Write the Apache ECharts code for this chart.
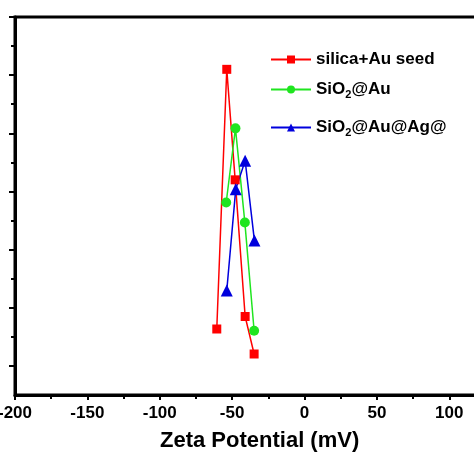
<!DOCTYPE html>
<html lang="en">
<head>
  <meta charset="UTF-8">
  <title>zeta</title>
  <script src="https://cdn.jsdelivr.net/npm/echarts@6/dist/echarts.min.js"></script>
</head>
<body style="margin:0;">
  <div id="chart" style="width:474px;height:474px;"></div>
  <script>
    // values (y in arbitrary axis units, 0 = bottom)
    var seedX = [-60.6, -53.7, -47.9, -41.0, -34.8];
    var seedY = [2.27, 11.2, 7.4, 2.7, 1.41];
    var auX = [-54.1, -47.7, -41.2, -34.8];
    var auY = [6.62, 9.17, 5.93, 2.21];
    var agX = [-53.7, -47.5, -41.0, -34.6];
    var agY = [3.59, 7.08, 8.06, 5.31];
    var names = ['silica+Au seed', 'SiO{s|2}@Au', 'SiO{s|2}@Au@Ag@'];
    var plain = ['silica+Au seed', 'SiO2@Au', 'SiO2@Au@Ag@'];

    function pairs(xs, ys) {
      return xs.map(function (x, i) { return [x, ys[i]]; });
    }

    var myChart = echarts.init(document.getElementById('chart'));
    var font = 'Arial, "Liberation Sans", sans-serif';
    var rich = { s: { fontSize: 11, fontWeight: 'bold', verticalAlign: 'bottom', padding: [10, 0, 0, 0], fontFamily: font } };

    function leg(i, top) {
      return {
        data: [plain[i]], left: 265, top: top, itemWidth: 40, itemHeight: 10,
        formatter: function () { return names[i]; },
        textStyle: { fontSize: 17, fontWeight: 'bold', color: '#000', fontFamily: font, rich: rich }
      };
    }

    myChart.setOption({
      animation: false,
      grid: { left: 15, top: 17, width: 579, height: 378, show: true, borderColor: '#000', borderWidth: 3, outerBoundsMode: 'none', containLabel: false },
      legend: [leg(0, 46), leg(1, 76), leg(2, 114)],
      xAxis: {
        type: 'value', min: -200, max: 200, interval: 50,
        axisLine: { onZero: false, lineStyle: { color: '#000', width: 3 } },
        axisTick: { length: 5, lineStyle: { width: 2 } },
        minorTick: { show: true, splitNumber: 2, length: 4, lineStyle: { color: '#000', width: 2 } },
        splitLine: { show: false },
        axisLabel: { fontSize: 17, fontWeight: 'bold', color: '#000', fontFamily: font, margin: 10, hideOverlap: false, showMinLabel: true }
      },
      yAxis: [{
        type: 'value', min: 0, max: 13, interval: 1,
        axisLine: { onZero: false, lineStyle: { color: '#000', width: 3 } },
        axisTick: { length: 6, lineStyle: { width: 2 }, customValues: [1, 3, 5, 7, 9, 11, 13] },
        splitLine: { show: false },
        axisLabel: { show: false }
      }, {
        type: 'value', min: 0, max: 13, interval: 1, position: 'left',
        axisLine: { show: false, onZero: false },
        axisTick: { length: 4, lineStyle: { width: 2, color: '#000' }, customValues: [2, 4, 6, 8, 10, 12] },
        splitLine: { show: false },
        axisLabel: { show: false }
      }],
      graphic: [{
        type: 'text', left: 160, top: 430,
        style: { text: 'Zeta Potential (mV)', fontSize: 22, fontWeight: 'bold', fill: '#000', fontFamily: font }
      }],
      series: [
        { name: plain[0], type: 'line', data: pairs(seedX, seedY), symbol: 'rect', symbolSize: 9, color: '#f00', lineStyle: { width: 1.5 } },
        { name: plain[1], type: 'line', data: pairs(auX, auY), symbol: 'circle', symbolSize: 10, color: '#1fe51f', lineStyle: { width: 1.5 } },
        { name: plain[2], type: 'line', data: pairs(agX, agY), symbol: 'triangle', symbolSize: 12, color: '#0000dd', lineStyle: { width: 1.5 } }
      ]
    });
  </script>
</body>
</html>
